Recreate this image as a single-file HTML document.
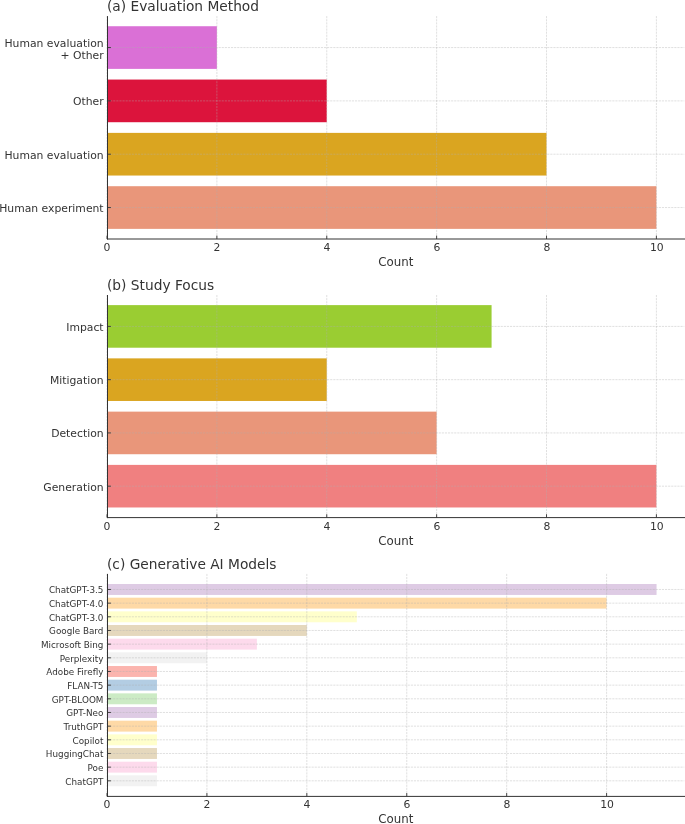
<!DOCTYPE html>
<html lang="en">
<head>
<meta charset="utf-8">
<title>Survey charts</title>
<style>
html,body{margin:0;padding:0;background:#ffffff;}
body{width:685px;height:824px;overflow:hidden;}
svg{display:block;font-family:"DejaVu Sans", "Liberation Sans", sans-serif;}
text{fill:#333333;}
.g{stroke:#b0b0b0;stroke-width:0.6;stroke-dasharray:2.15 0.95;stroke-opacity:0.65;fill:none;}
.t{stroke:#333333;stroke-width:0.9;}
.s{stroke:#333333;stroke-width:1;}
.ti{font-size:13.75px;}
.xl{font-size:11.8px;text-anchor:middle;}
.xt{font-size:10.8px;text-anchor:middle;}
.yt{text-anchor:end;}
</style>
</head>
<body>
<svg width="685" height="824" viewBox="0 0 685 824">
<rect x="0" y="0" width="685" height="824" fill="#ffffff"/>
<rect x="107.00" y="26.23" width="109.88" height="42.66" fill="#DA70D6"/>
<rect x="107.00" y="79.56" width="219.76" height="42.66" fill="#DC143C"/>
<rect x="107.00" y="132.88" width="439.52" height="42.66" fill="#DAA520"/>
<rect x="107.00" y="186.21" width="549.40" height="42.66" fill="#E9967A"/>
<line class="g" x1="107.00" y1="16.10" x2="107.00" y2="239.00"/>
<line class="g" x1="216.88" y1="16.10" x2="216.88" y2="239.00"/>
<line class="g" x1="326.76" y1="16.10" x2="326.76" y2="239.00"/>
<line class="g" x1="436.64" y1="16.10" x2="436.64" y2="239.00"/>
<line class="g" x1="546.52" y1="16.10" x2="546.52" y2="239.00"/>
<line class="g" x1="656.40" y1="16.10" x2="656.40" y2="239.00"/>
<line class="g" x1="107.00" y1="47.56" x2="684.30" y2="47.56"/>
<line class="g" x1="107.00" y1="100.89" x2="684.30" y2="100.89"/>
<line class="g" x1="107.00" y1="154.21" x2="684.30" y2="154.21"/>
<line class="g" x1="107.00" y1="207.54" x2="684.30" y2="207.54"/>
<line class="t" x1="107.00" y1="239.00" x2="107.00" y2="235.60"/>
<text class="xt" x="107.00" y="251.10">0</text>
<line class="t" x1="216.88" y1="239.00" x2="216.88" y2="235.60"/>
<text class="xt" x="216.96" y="251.10">2</text>
<line class="t" x1="326.76" y1="239.00" x2="326.76" y2="235.60"/>
<text class="xt" x="326.92" y="251.10">4</text>
<line class="t" x1="436.64" y1="239.00" x2="436.64" y2="235.60"/>
<text class="xt" x="436.88" y="251.10">6</text>
<line class="t" x1="546.52" y1="239.00" x2="546.52" y2="235.60"/>
<text class="xt" x="546.84" y="251.10">8</text>
<line class="t" x1="656.40" y1="239.00" x2="656.40" y2="235.60"/>
<text class="xt" x="656.80" y="251.10">10</text>
<line class="t" x1="107.50" y1="47.56" x2="110.90" y2="47.56"/>
<text class="yt" style="font-size:10.8px" x="103.6" y="46.76">Human evaluation</text>
<text class="yt" style="font-size:10.8px" x="103.6" y="58.66">+ Other</text>
<line class="t" x1="107.50" y1="100.89" x2="110.90" y2="100.89"/>
<text class="yt" style="font-size:10.8px" x="103.6" y="105.29">Other</text>
<line class="t" x1="107.50" y1="154.21" x2="110.90" y2="154.21"/>
<text class="yt" style="font-size:10.8px" x="103.6" y="158.61">Human evaluation</text>
<line class="t" x1="107.50" y1="207.54" x2="110.90" y2="207.54"/>
<text class="yt" style="font-size:10.8px" x="103.6" y="211.94">Human experiment</text>
<line class="s" x1="107.50" y1="16.10" x2="107.50" y2="239.50"/>
<line class="s" x1="107.00" y1="239.00" x2="685.00" y2="239.00"/>
<text class="ti" x="107.00" y="10.70">(a) Evaluation Method</text>
<text class="xl" x="395.85" y="266.20">Count</text>
<rect x="107.00" y="305.12" width="384.58" height="42.60" fill="#9ACD32"/>
<rect x="107.00" y="358.37" width="219.76" height="42.60" fill="#DAA520"/>
<rect x="107.00" y="411.63" width="329.64" height="42.60" fill="#E9967A"/>
<rect x="107.00" y="464.88" width="549.40" height="42.60" fill="#F08080"/>
<line class="g" x1="107.00" y1="295.00" x2="107.00" y2="517.60"/>
<line class="g" x1="216.88" y1="295.00" x2="216.88" y2="517.60"/>
<line class="g" x1="326.76" y1="295.00" x2="326.76" y2="517.60"/>
<line class="g" x1="436.64" y1="295.00" x2="436.64" y2="517.60"/>
<line class="g" x1="546.52" y1="295.00" x2="546.52" y2="517.60"/>
<line class="g" x1="656.40" y1="295.00" x2="656.40" y2="517.60"/>
<line class="g" x1="107.00" y1="326.42" x2="684.30" y2="326.42"/>
<line class="g" x1="107.00" y1="379.67" x2="684.30" y2="379.67"/>
<line class="g" x1="107.00" y1="432.93" x2="684.30" y2="432.93"/>
<line class="g" x1="107.00" y1="486.18" x2="684.30" y2="486.18"/>
<line class="t" x1="107.00" y1="517.60" x2="107.00" y2="514.20"/>
<text class="xt" x="107.00" y="529.70">0</text>
<line class="t" x1="216.88" y1="517.60" x2="216.88" y2="514.20"/>
<text class="xt" x="216.96" y="529.70">2</text>
<line class="t" x1="326.76" y1="517.60" x2="326.76" y2="514.20"/>
<text class="xt" x="326.92" y="529.70">4</text>
<line class="t" x1="436.64" y1="517.60" x2="436.64" y2="514.20"/>
<text class="xt" x="436.88" y="529.70">6</text>
<line class="t" x1="546.52" y1="517.60" x2="546.52" y2="514.20"/>
<text class="xt" x="546.84" y="529.70">8</text>
<line class="t" x1="656.40" y1="517.60" x2="656.40" y2="514.20"/>
<text class="xt" x="656.80" y="529.70">10</text>
<line class="t" x1="107.50" y1="326.42" x2="110.90" y2="326.42"/>
<text class="yt" style="font-size:10.8px" x="103.6" y="330.82">Impact</text>
<line class="t" x1="107.50" y1="379.67" x2="110.90" y2="379.67"/>
<text class="yt" style="font-size:10.8px" x="103.6" y="384.07">Mitigation</text>
<line class="t" x1="107.50" y1="432.93" x2="110.90" y2="432.93"/>
<text class="yt" style="font-size:10.8px" x="103.6" y="437.33">Detection</text>
<line class="t" x1="107.50" y1="486.18" x2="110.90" y2="486.18"/>
<text class="yt" style="font-size:10.8px" x="103.6" y="490.58">Generation</text>
<line class="s" x1="107.50" y1="295.00" x2="107.50" y2="518.10"/>
<line class="s" x1="107.00" y1="517.60" x2="685.00" y2="517.60"/>
<text class="ti" x="107.00" y="289.60">(b) Study Focus</text>
<text class="xl" x="395.85" y="544.80">Count</text>
<rect x="107.00" y="584.01" width="549.56" height="10.93" fill="#decbe4"/>
<rect x="107.00" y="597.68" width="499.60" height="10.93" fill="#fed9a6"/>
<rect x="107.00" y="611.35" width="249.80" height="10.93" fill="#ffffcc"/>
<rect x="107.00" y="625.01" width="199.84" height="10.93" fill="#e5d8bd"/>
<rect x="107.00" y="638.68" width="149.88" height="10.93" fill="#fddaec"/>
<rect x="107.00" y="652.35" width="99.92" height="10.93" fill="#f2f2f2"/>
<rect x="107.00" y="666.02" width="49.96" height="10.93" fill="#fbb4ae"/>
<rect x="107.00" y="679.68" width="49.96" height="10.93" fill="#b3cde3"/>
<rect x="107.00" y="693.35" width="49.96" height="10.93" fill="#ccebc5"/>
<rect x="107.00" y="707.02" width="49.96" height="10.93" fill="#decbe4"/>
<rect x="107.00" y="720.68" width="49.96" height="10.93" fill="#fed9a6"/>
<rect x="107.00" y="734.35" width="49.96" height="10.93" fill="#ffffcc"/>
<rect x="107.00" y="748.02" width="49.96" height="10.93" fill="#e5d8bd"/>
<rect x="107.00" y="761.69" width="49.96" height="10.93" fill="#fddaec"/>
<rect x="107.00" y="775.35" width="49.96" height="10.93" fill="#f2f2f2"/>
<line class="g" x1="107.00" y1="573.90" x2="107.00" y2="796.40"/>
<line class="g" x1="206.92" y1="573.90" x2="206.92" y2="796.40"/>
<line class="g" x1="306.84" y1="573.90" x2="306.84" y2="796.40"/>
<line class="g" x1="406.76" y1="573.90" x2="406.76" y2="796.40"/>
<line class="g" x1="506.68" y1="573.90" x2="506.68" y2="796.40"/>
<line class="g" x1="606.60" y1="573.90" x2="606.60" y2="796.40"/>
<line class="g" x1="107.00" y1="589.48" x2="684.30" y2="589.48"/>
<line class="g" x1="107.00" y1="603.15" x2="684.30" y2="603.15"/>
<line class="g" x1="107.00" y1="616.81" x2="684.30" y2="616.81"/>
<line class="g" x1="107.00" y1="630.48" x2="684.30" y2="630.48"/>
<line class="g" x1="107.00" y1="644.15" x2="684.30" y2="644.15"/>
<line class="g" x1="107.00" y1="657.82" x2="684.30" y2="657.82"/>
<line class="g" x1="107.00" y1="671.48" x2="684.30" y2="671.48"/>
<line class="g" x1="107.00" y1="685.15" x2="684.30" y2="685.15"/>
<line class="g" x1="107.00" y1="698.82" x2="684.30" y2="698.82"/>
<line class="g" x1="107.00" y1="712.48" x2="684.30" y2="712.48"/>
<line class="g" x1="107.00" y1="726.15" x2="684.30" y2="726.15"/>
<line class="g" x1="107.00" y1="739.82" x2="684.30" y2="739.82"/>
<line class="g" x1="107.00" y1="753.49" x2="684.30" y2="753.49"/>
<line class="g" x1="107.00" y1="767.15" x2="684.30" y2="767.15"/>
<line class="g" x1="107.00" y1="780.82" x2="684.30" y2="780.82"/>
<line class="t" x1="107.00" y1="796.40" x2="107.00" y2="793.00"/>
<text class="xt" x="107.00" y="808.20">0</text>
<line class="t" x1="206.92" y1="796.40" x2="206.92" y2="793.00"/>
<text class="xt" x="207.00" y="808.20">2</text>
<line class="t" x1="306.84" y1="796.40" x2="306.84" y2="793.00"/>
<text class="xt" x="307.00" y="808.20">4</text>
<line class="t" x1="406.76" y1="796.40" x2="406.76" y2="793.00"/>
<text class="xt" x="407.00" y="808.20">6</text>
<line class="t" x1="506.68" y1="796.40" x2="506.68" y2="793.00"/>
<text class="xt" x="507.00" y="808.20">8</text>
<line class="t" x1="606.60" y1="796.40" x2="606.60" y2="793.00"/>
<text class="xt" x="607.00" y="808.20">10</text>
<line class="t" x1="107.50" y1="589.48" x2="110.90" y2="589.48"/>
<text class="yt" style="font-size:8.8px" x="103.4" y="593.28">ChatGPT-3.5</text>
<line class="t" x1="107.50" y1="603.15" x2="110.90" y2="603.15"/>
<text class="yt" style="font-size:8.8px" x="103.4" y="606.95">ChatGPT-4.0</text>
<line class="t" x1="107.50" y1="616.81" x2="110.90" y2="616.81"/>
<text class="yt" style="font-size:8.8px" x="103.4" y="620.61">ChatGPT-3.0</text>
<line class="t" x1="107.50" y1="630.48" x2="110.90" y2="630.48"/>
<text class="yt" style="font-size:8.8px" x="103.4" y="634.28">Google Bard</text>
<line class="t" x1="107.50" y1="644.15" x2="110.90" y2="644.15"/>
<text class="yt" style="font-size:8.8px" x="103.4" y="647.95">Microsoft Bing</text>
<line class="t" x1="107.50" y1="657.82" x2="110.90" y2="657.82"/>
<text class="yt" style="font-size:8.8px" x="103.4" y="661.62">Perplexity</text>
<line class="t" x1="107.50" y1="671.48" x2="110.90" y2="671.48"/>
<text class="yt" style="font-size:8.8px" x="103.4" y="675.28">Adobe Firefly</text>
<line class="t" x1="107.50" y1="685.15" x2="110.90" y2="685.15"/>
<text class="yt" style="font-size:8.8px" x="103.4" y="688.95">FLAN-T5</text>
<line class="t" x1="107.50" y1="698.82" x2="110.90" y2="698.82"/>
<text class="yt" style="font-size:8.8px" x="103.4" y="702.62">GPT-BLOOM</text>
<line class="t" x1="107.50" y1="712.48" x2="110.90" y2="712.48"/>
<text class="yt" style="font-size:8.8px" x="103.4" y="716.28">GPT-Neo</text>
<line class="t" x1="107.50" y1="726.15" x2="110.90" y2="726.15"/>
<text class="yt" style="font-size:8.8px" x="103.4" y="729.95">TruthGPT</text>
<line class="t" x1="107.50" y1="739.82" x2="110.90" y2="739.82"/>
<text class="yt" style="font-size:8.8px" x="103.4" y="743.62">Copilot</text>
<line class="t" x1="107.50" y1="753.49" x2="110.90" y2="753.49"/>
<text class="yt" style="font-size:8.8px" x="103.4" y="757.29">HuggingChat</text>
<line class="t" x1="107.50" y1="767.15" x2="110.90" y2="767.15"/>
<text class="yt" style="font-size:8.8px" x="103.4" y="770.95">Poe</text>
<line class="t" x1="107.50" y1="780.82" x2="110.90" y2="780.82"/>
<text class="yt" style="font-size:8.8px" x="103.4" y="784.62">ChatGPT</text>
<line class="s" x1="107.50" y1="573.90" x2="107.50" y2="796.90"/>
<line class="s" x1="107.00" y1="796.40" x2="685.00" y2="796.40"/>
<text class="ti" x="107.00" y="568.50">(c) Generative AI Models</text>
<text class="xl" x="395.85" y="823.30">Count</text>
</svg>
</body>
</html>
